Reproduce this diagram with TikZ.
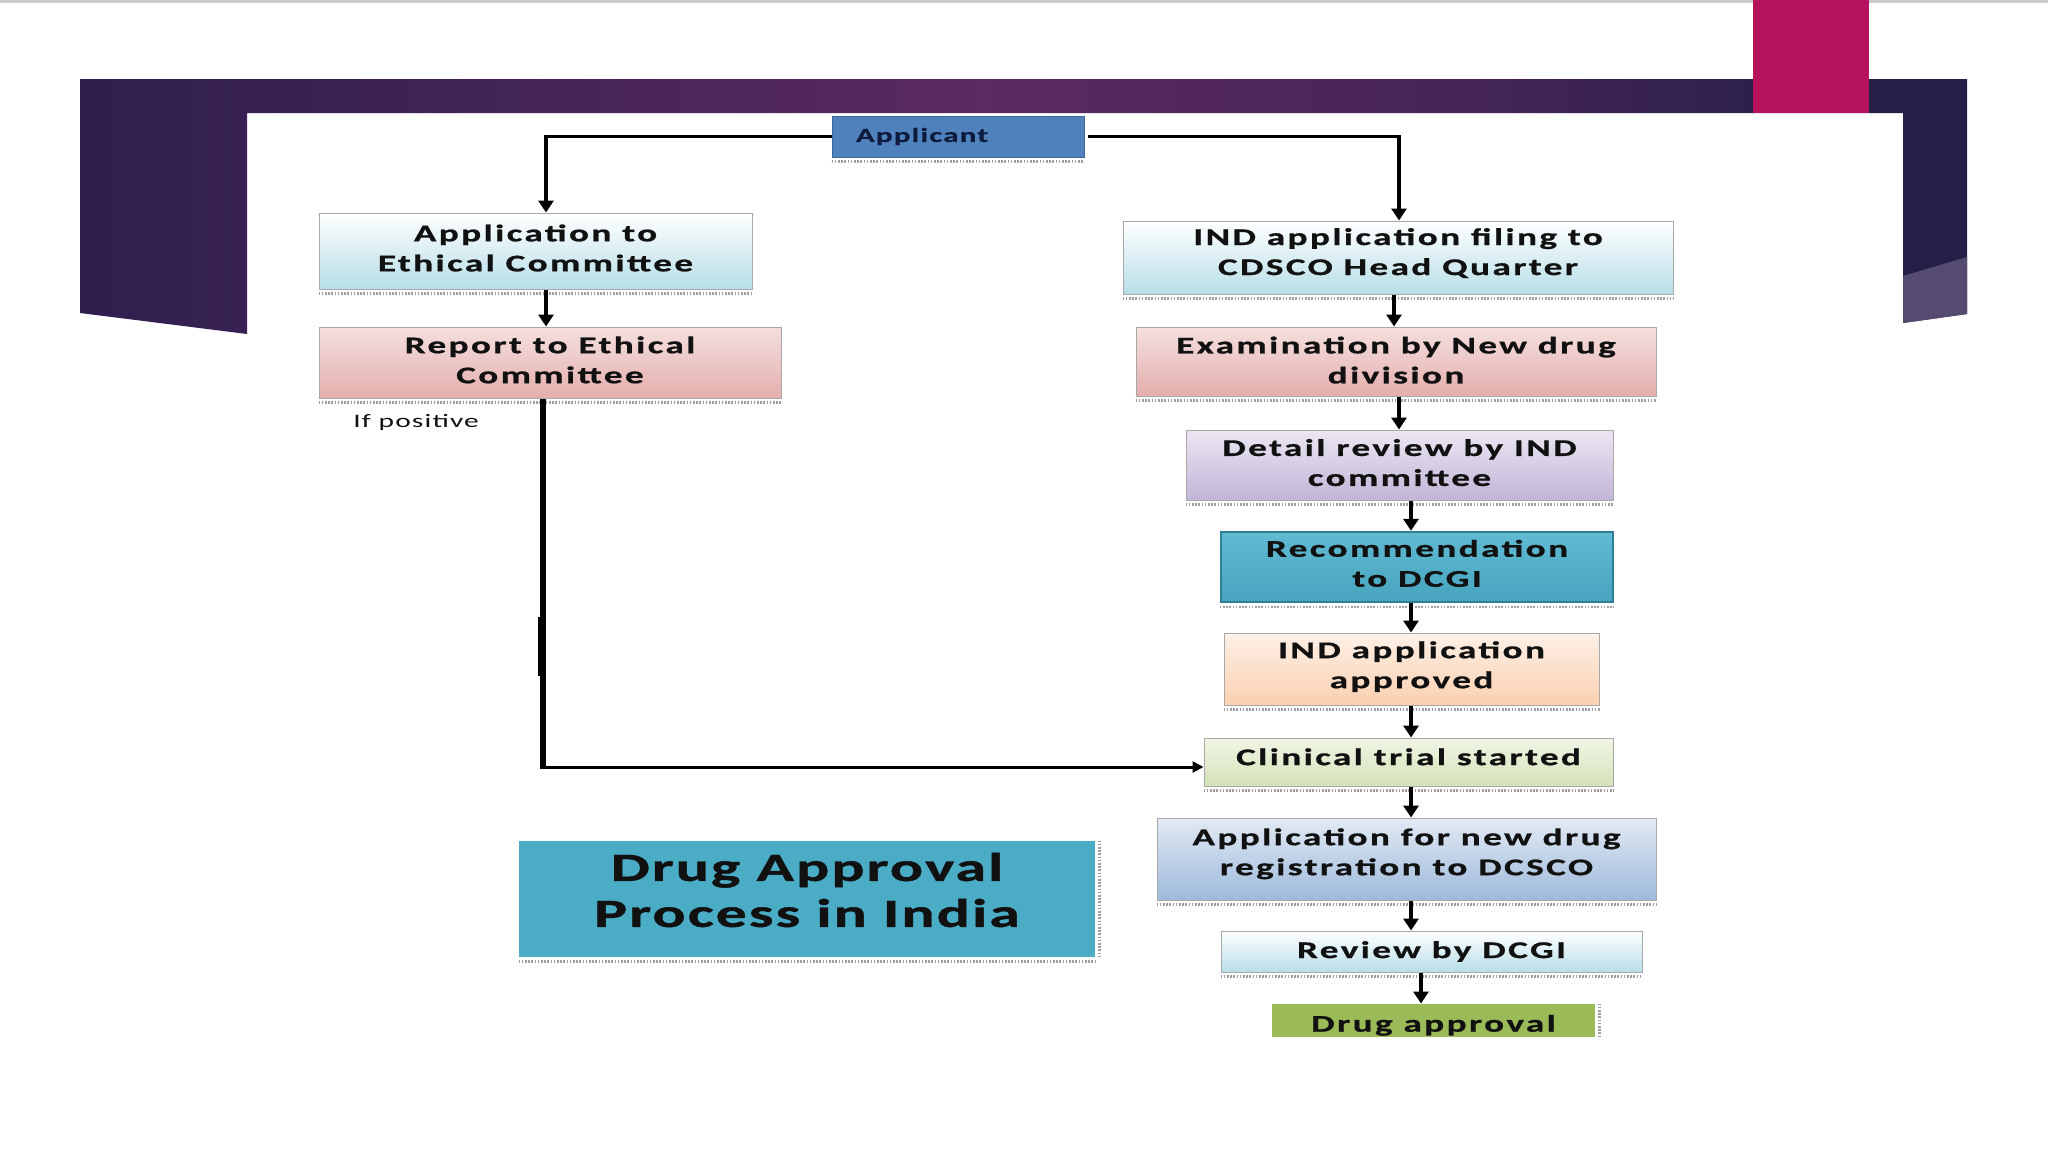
\documentclass[tikz,border=0pt]{standalone}
\usepackage{fontspec}
\setmainfont{Carlito}
\newfontfamily\boxfont{Carlito}[FakeStretch=1.55,LetterSpace=10,FakeBold=0.8]
\newfontfamily\appfont{Carlito}[FakeStretch=1.55,LetterSpace=6,FakeBold=0.8]
\newfontfamily\titlefont{Carlito}[FakeStretch=1.55,LetterSpace=5,FakeBold=1]
\newfontfamily\smallfont{Carlito}[FakeStretch=1.55,LetterSpace=6]
\usetikzlibrary{arrows.meta,calc}
\definecolor{bandA}{HTML}{2E1F4E}
\definecolor{bandB}{HTML}{5B2963}
\definecolor{bandC}{HTML}{241F46}
\definecolor{bandlight}{HTML}{554A6F}
\definecolor{pinkbar}{HTML}{B5135E}
\definecolor{textdark}{HTML}{111111}
\definecolor{appblue}{HTML}{4F81BD}
\definecolor{apptext}{HTML}{0E1B3D}
\definecolor{lblue}{HTML}{B7DEE8}
\definecolor{pinkT}{HTML}{F4E0DF}
\definecolor{pinkB}{HTML}{E4AEAD}
\definecolor{lavT}{HTML}{EBE6F2}
\definecolor{lavB}{HTML}{C2B5D7}
\definecolor{recT}{HTML}{60BAD2}
\definecolor{recB}{HTML}{47A4BE}
\definecolor{recBorder}{HTML}{2F7F95}
\definecolor{peachT}{HTML}{FDF0E6}
\definecolor{peachB}{HTML}{FAD0B0}
\definecolor{greenT}{HTML}{F0F5E5}
\definecolor{greenB}{HTML}{D4E2B8}
\definecolor{ndT}{HTML}{E2EAF4}
\definecolor{ndB}{HTML}{9DB9DB}
\definecolor{drugG}{HTML}{9BBB59}
\definecolor{titleB}{HTML}{4BACC6}
\definecolor{boxborder}{HTML}{A8A8A8}
\pgfdeclarehorizontalshading{bandshade}{100bp}{color(0bp)=(bandA); color(25bp)=(bandA); color(36bp)=(bandA!55!bandB); color(49bp)=(bandB); color(62bp)=(bandB!60!bandC); color(72bp)=(bandC); color(100bp)=(bandC)}
\tikzset{
  boxbase/.style={draw=boxborder, line width=0.5pt, inner sep=0pt},
  boxtext/.style={align=center, inner sep=0pt, text=textdark,
    font=\boxfont\bfseries\fontsize{12}{15}\selectfont},
  bluebox/.style={boxbase, top color=white, bottom color=lblue},
  pinkbox/.style={boxbase, top color=pinkT, bottom color=pinkB},
  lavbox/.style={boxbase, top color=lavT, bottom color=lavB},
  recbox/.style={boxbase, draw=recBorder, line width=1.2pt, top color=recT, bottom color=recB},
  peachbox/.style={boxbase, top color=peachT, bottom color=peachB},
  greenbox/.style={boxbase, top color=greenT, bottom color=greenB},
  ndbox/.style={boxbase, top color=ndT, bottom color=ndB},
  drugbox/.style={boxbase, draw=none, fill=drugG},
  appbox/.style={draw=appblue!80!black, line width=0.4pt, fill=appblue, inner sep=0pt,
    text=apptext, font=\appfont\bfseries\fontsize{10}{12}\selectfont},
  titlebox/.style={fill=titleB, inner sep=0pt},
  titletext/.style={align=center, inner sep=0pt, text=textdark,
    font=\titlefont\bfseries\fontsize{20}{23}\selectfont},
  shadowline/.style={draw=gray!75, line width=1.2pt, dash pattern=on 0.8pt off 0.8pt},
  conn/.style={draw=black, line width=2.1pt, -{Triangle[length=6pt,width=7.5pt]}},
  connthin/.style={draw=black, line width=1.5pt, -{Triangle[length=5.5pt,width=5.5pt]}},
}
% #1 text shift, #2 name, #3-#6 box in pixels, #7 style, #8 text
\newcommand\mybox[8][0pt]{%
  \pgfmathsetmacro\mybw{(#5-#3)*0.5}%
  \pgfmathsetmacro\mybh{(#6-#4)*0.5}%
  \pgfmathsetmacro\mycx{(#3+#5)/2}%
  \pgfmathsetmacro\mycy{(#4+#6)/2}%
  \node[#7, minimum width=\mybw pt, minimum height=\mybh pt,
    label={[boxtext, yshift=#1]center:#8}] (#2) at (\mycx,\mycy) {};%
  \draw[shadowline] ([yshift=-2pt]#2.south west) -- ([yshift=-2pt]#2.south east);%
}
\begin{document}
\begin{tikzpicture}[x=0.5pt,y=-0.5pt]
\useasboundingbox (0,0) rectangle (2048,1152);
\fill[white] (0,0) rectangle (2048,1152);
% slide decoration
\fill[gray!40] (0,0) rectangle (2048,2.5);
\shade[shading=bandshade]
  (80,79) -- (1967,79) -- (1967,314) -- (1903,323) -- (1903,113) -- (247,113) -- (247,334) -- (80,313) -- cycle;
\fill[bandlight] (1903,276) -- (1967,257) -- (1967,314) -- (1903,323) -- cycle;
\fill[pinkbar] (1753,0) rectangle (1869,113);
% boxes
\node[appbox, minimum width=126pt, minimum height=20.5pt] (app) at (958,136.5) {Applicant\kern36pt};
\draw[shadowline] ([yshift=-2pt]app.south west) -- ([yshift=-2pt]app.south east);
\mybox[1.5pt]{ethapp}{319}{213}{752}{289}{bluebox}{Application to\\Ethical Committee}
\mybox[1.3pt]{report}{319}{327}{781}{398}{pinkbox}{Report to Ethical\\Committee}
\mybox[2.2pt]{ind}{1123}{221}{1673}{294}{bluebox}{IND application filing to\\CDSCO Head Quarter}
\mybox[0.7pt]{exam}{1136}{327}{1656}{396}{pinkbox}{Examination by New drug\\division}
\mybox[1.2pt]{detail}{1186}{430}{1613}{500}{lavbox}{Detail review by IND\\committee}
\mybox[1.8pt]{recom}{1221}{532}{1613}{602}{recbox}{Recommendation\\to DCGI}
\mybox[1.2pt]{approved}{1224}{633}{1599}{705}{peachbox}{IND application\\approved}
\mybox[2.6pt]{clinical}{1204}{738}{1613}{786}{greenbox}{Clinical trial started}
\mybox[2.6pt]{newdrug}{1157}{818}{1656}{900}{ndbox}{Application for new drug\\registration to DCSCO}
\mybox{review}{1221}{931}{1642}{972}{bluebox}{Review by DCGI}
\node[drugbox, minimum width=161.5pt, minimum height=16.5pt,
  label={[boxtext, yshift=-2.4pt]center:Drug approval}] (drug) at (1433.5,1020.5) {};
\draw[shadowline] ([xshift=2pt]drug.north east) -- ([xshift=2pt]drug.south east);
\node[titlebox, minimum width=288pt, minimum height=58pt,
  label={[titletext, yshift=4.5pt]center:Drug Approval\\Process in India}] (title) at (807,899) {};
\draw[shadowline] ([yshift=-2pt]title.south west) -- ([yshift=-2pt]title.south east);
\draw[shadowline] ([xshift=2pt]title.north east) -- ([xshift=2pt]title.south east);
\node[anchor=west, inner sep=0pt, text=textdark, font=\smallfont\fontsize{9.5}{11}\selectfont] (ifpos) at (353,422) {If positive};
% connector columns
\coordinate (xL) at (546,0);
\coordinate (xL2) at (543,0);
\coordinate (xR1) at (1399,0);
\coordinate (xR2) at (1394,0);
\coordinate (xR3) at (1411,0);
\coordinate (xR4) at (1421,0);
\coordinate (corner) at (543,767);
% connectors
\draw[conn, line width=1.8pt] (app.west) -| (ethapp.north -| xL);
\draw[conn, line width=1.8pt] ([xshift=2pt]app.east) -| (ind.north -| xR1);
\draw[conn] (ethapp.south -| xL) -- (report.north -| xL);
\draw[conn] (ind.south -| xR2) -- (exam.north -| xR2);
\draw[conn] (exam.south -| xR1) -- (detail.north -| xR1);
\draw[conn] (detail.south -| xR3) -- (recom.north -| xR3);
\draw[conn] (recom.south -| xR3) -- (approved.north -| xR3);
\draw[conn] (approved.south -| xR3) -- (clinical.north -| xR3);
\draw[conn] (clinical.south -| xR3) -- (newdrug.north -| xR3);
\draw[conn] (newdrug.south -| xR3) -- (review.north -| xR3);
\draw[conn] (review.south -| xR4) -- (drug.north -| xR4);
\draw[black, line width=2.8pt] (report.south -| xL2) -- ([yshift=-0.7pt]corner);
\draw[connthin] ([xshift=-1.4pt]corner) -- (clinical.west |- corner);
\fill[black] (538,617) rectangle (546,676);
\end{tikzpicture}
\end{document}
